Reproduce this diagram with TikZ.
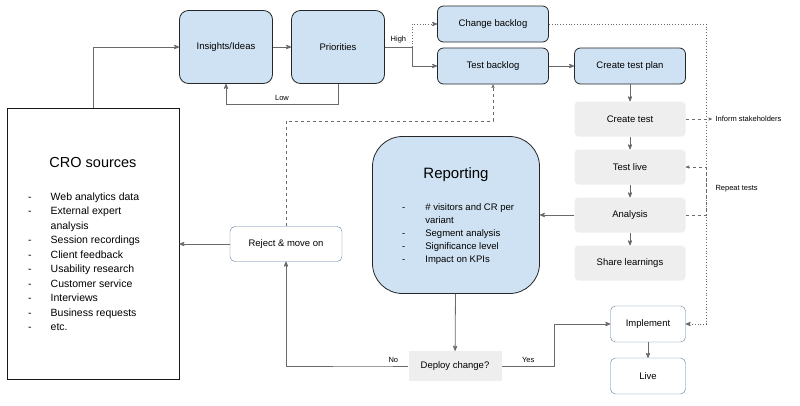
\documentclass[tikz,border=0pt]{standalone}
\usepackage{fontspec}
\setmainfont{Liberation Sans}
\usepackage{array}
\usetikzlibrary{arrows,positioning}
\definecolor{boxblue}{HTML}{CFE2F3}
\definecolor{boxgray}{HTML}{EEEEEE}
\definecolor{edgeblue}{HTML}{5B7FA6}
\definecolor{linegray}{HTML}{6A6A6A}

\begin{document}
\begin{tikzpicture}
	[x=1pt,y=-1pt,>=stealth',font=\fontsize{9.5}{11}\selectfont,
		step node/.style={rectangle,rounded corners=9pt,draw=black!85,thick,fill=boxblue,minimum width=93pt,minimum height=73pt},
		backlog node/.style={rectangle,rounded corners=6pt,draw=black!85,thick,fill=boxblue,minimum width=111pt,minimum height=36pt},
		gray node/.style={rectangle,rounded corners=4pt,fill=boxgray,minimum width=111pt,minimum height=35pt},
		out node/.style={rectangle,rounded corners=5pt,draw=edgeblue,fill=white,minimum height=35pt},
		small text/.style={font=\fontsize{7.5}{9}\selectfont},
		flow/.style={->,draw=linegray,thick},
		dashflow/.style={->,draw=linegray,dashed},
		dotflow/.style={->,draw=linegray,dotted,thick}]

	\useasboundingbox (0,0) rectangle (800,405);

	\node[step node]    (ideas)    at (226,47)  {Insights/Ideas};
	\node[step node]    (prio)     at (338,47)  {Priorities};
	\node[backlog node] (change)   at (493,24)  {Change backlog};
	\node[backlog node] (testbl)   at (493,66)  {Test backlog};
	\node[backlog node] (plan)     at (630,66)  {Create test plan};
	\node[gray node]    (create)   at (630,119) {Create test};
	\node[gray node]    (live)     at (630,167) {Test live};
	\node[gray node]    (analysis) at (630,215) {Analysis};
	\node[gray node]    (share)    at (630,263) {Share learnings};
	\node[rectangle,rounded corners=30pt,draw=black!85,thick,fill=boxblue,minimum width=167pt,minimum height=157pt] (report) at (456,215) {};
	\node[rectangle,draw=black!90,thick,minimum width=172pt,minimum height=271pt] (cro) at (93,244) {};
	\node[out node,minimum width=112pt] (reject)  at (286,244) {Reject \& move on};
	\node[gray node,minimum width=93pt,minimum height=30pt,rounded corners=0pt] (deploy) at (455,366) {Deploy change?};
	\node[out node,minimum width=75pt,minimum height=36pt] (impl)    at (648,324) {Implement};
	\node[out node,minimum width=75pt,minimum height=36pt] (golive)  at (648,376) {Live};

	% texts inside the big boxes
	\node[font=\fontsize{14.5}{16}\selectfont] (crotitle) at (93,163) {CRO sources};
	\node[anchor=north west,inner sep=0pt,font=\fontsize{10.5}{14.5}\selectfont] (crolist) at (28,190)
		{\begin{tabular}{@{}l@{\hspace{19pt}}>{\raggedright\arraybackslash}p{112pt}@{}}
			- & Web analytics data\\ - & External expert\\ & analysis\\ - & Session recordings\\
			- & Client feedback\\ - & Usability research\\ - & Customer service\\
			- & Interviews\\ - & Business requests\\ - & etc.
		\end{tabular}};
	\node[font=\fontsize{15}{17}\selectfont] (reptitle) at (456,175) {Reporting};
	\node[anchor=north west,inner sep=0pt,font=\fontsize{9.5}{13}\selectfont] (replist) at (402,201)
		{\begin{tabular}{@{}l@{\hspace{20pt}}>{\raggedright\arraybackslash}p{105pt}@{}}
			- & \# visitors and CR per variant\\ - & Segment analysis\\
			- & Significance level\\ - & Impact on KPIs
		\end{tabular}};

	\node[small text,anchor=west] (inform) at (712,119) {Inform stakeholders};
	\node[small text,anchor=west] (repeat) at (712,189) {Repeat tests};
	\coordinate (fork) at (412,47);

	\draw[flow] (cro.north) |- (ideas.west);
	\draw[flow] (ideas) -- (prio);
	\draw[flow] (prio.south) -- ++(0,20) -| node[pos=0.25,above,small text] {Low} (ideas.south);
	\draw[draw=linegray,thick] (prio.east) -- node[above,small text] {High} (fork);
	\draw[flow] (fork) |- (testbl.west);
	\draw[dotflow] (fork) |- (change.west);
	\draw[flow] (testbl) -- (plan);
	\draw[flow] (plan) -- (create);
	\draw[flow] (create) -- (live);
	\draw[flow] (live) -- (analysis);
	\draw[flow] (analysis) -- (share);
	\draw[flow] (analysis) -- (report);
	\draw[dashflow] (create) -- (inform);
	\draw[dashflow] (analysis.east) -- ++(20,0) |- (live.east);
	\draw[dotflow] (change.east) -| (706,300) |- (impl.east);
	\draw[dashflow] (reject.north) |- (493,121) -- (testbl.south);
	\draw[flow] (reject) -- (cro);
	\draw[flow] (report) -- (deploy);
	\draw[flow] (deploy.west) -- node[above,small text] {No} ++(-30,0) -| (reject.south);
	\draw[flow] (deploy.east) -- node[above,small text] {Yes} ++(53,0) |- (impl.west);
	\draw[flow] (impl) -- (golive);

\end{tikzpicture}
\end{document}
